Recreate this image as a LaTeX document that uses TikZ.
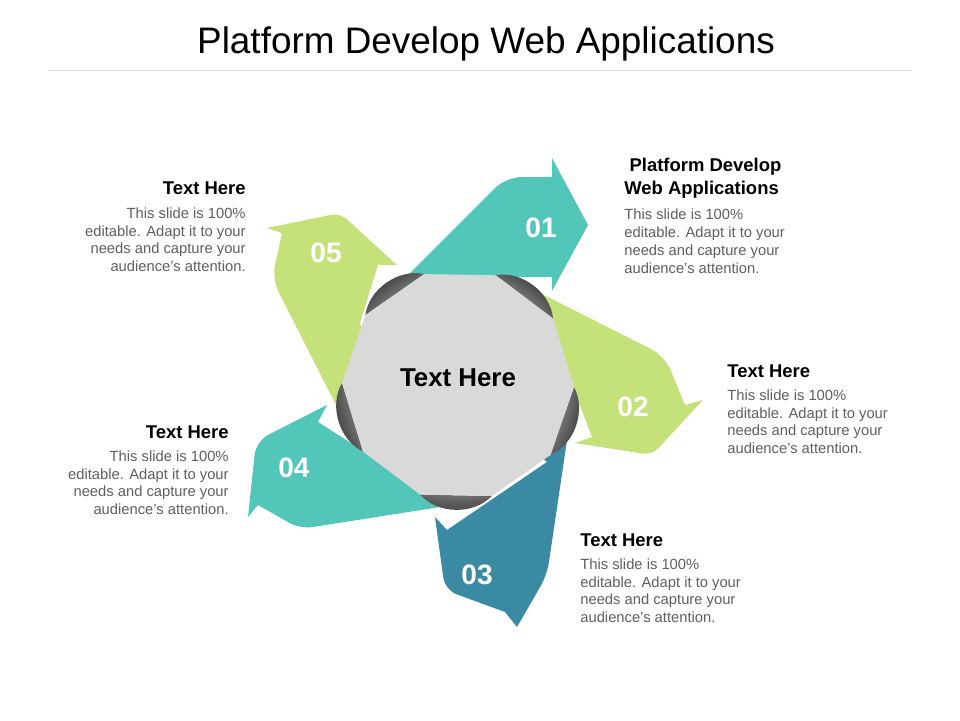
\documentclass[tikz,border=0pt]{standalone}
\usepackage{fontspec}
\setmainfont{Liberation Sans}
\usetikzlibrary{positioning}
\definecolor{tealArrow}{HTML}{52C6B9}
\definecolor{limeArrow}{HTML}{C5E17A}
\definecolor{blueArrow}{HTML}{3A8AA4}
\definecolor{hubGray}{HTML}{D9D9D9}
\definecolor{ringDark}{HTML}{3C3C3C}
\definecolor{ringLight}{HTML}{707070}
\definecolor{bodyGray}{HTML}{5F5F5F}
\pgfdeclareradialshading{ringshade}{\pgfpoint{0bp}{0bp}}{color(0bp)=(ringLight); color(21bp)=(ringLight); color(25bp)=(ringDark); color(50bp)=(ringDark)}
\tikzset{
  numlabel/.style={text=white, font=\bfseries\fontsize{16}{16}\selectfont},
  heading/.style={inner sep=0pt, font=\bfseries\fontsize{10.5}{13}\selectfont},
  desc/.style={inner sep=0pt, text=bodyGray, font=\fontsize{8.4}{10.2}\selectfont}
}

\begin{document}
\begin{tikzpicture}[x=0.02cm, y=-0.02cm]
        \useasboundingbox (0,0) rectangle (960,720);
        % title
        \node[anchor=base, font=\fontsize{21}{25}\selectfont] (title) at (486,53) {Platform Develop Web Applications};
        \draw[black!14, line width=0.6pt] (48,70.5) -- (912,70.5);

        % arrow 01
        \fill[tealArrow] (391,292) [rounded corners=9pt] -- (506,177) [sharp corners] -- (552,177) -- (552,158) -- (588,225) -- (552,291) -- (552,277) -- (420,277) -- (405,300) -- cycle;
        % arrow 02
        \fill[limeArrow] (530,288) [rounded corners=9pt] -- (665,356) [sharp corners] -- (685,405) -- (703,400) [rounded corners=5pt] -- (652,455) [sharp corners] -- (575,443) -- (592,437) -- (574,390) -- (500,350) -- (520,300) -- cycle;
        % arrow 03
        \fill[blueArrow] (570,420) [rounded corners=7pt] -- (547,575) [sharp corners] -- (517,627) -- (505,612) [rounded corners=7pt] -- (445,590) [sharp corners] -- (435,517) -- (447,530) -- (547,462) -- (500,420) -- (560,400) -- cycle;
        % arrow 04
        \fill[tealArrow] (365,452) -- (318,422) -- (327,405) [rounded corners=8pt] -- (256,441) [sharp corners] -- (248,517) -- (258,505) [rounded corners=7pt] -- (300,529) [sharp corners] -- (453,505) -- (440,470) -- (385,440) -- cycle;
        % arrow 05
        \fill[limeArrow] (360,323) -- (378,265) -- (397,265) [rounded corners=5pt] -- (340,213) [sharp corners] -- (267,228) -- (282,233) [rounded corners=8pt] -- (272,279) [sharp corners] -- (340,413) -- (380,380) -- cycle;

        % hub
        \begin{scope}[shift={(458,385)}]
            \begin{scope}
                \clip \foreach \a in {217,-71,1,73,145} {(\a:116) .. controls (\a+10:131) and (\a+26:131) .. (\a+36:116) -- cycle};
                \shade[shading=ringshade] (0,0) circle (131);
            \end{scope}
            \fill[hubGray] (-107:116) \foreach \a in {-71,-35,...,217} {-- (\a:116)} -- cycle;
        \end{scope}
        \node[font=\bfseries\fontsize{14.7}{16}\selectfont] (hub) at (458,378) {Text Here};

        % numbers
        \node[numlabel] (n1) at (541,228) {01};
        \node[numlabel] (n2) at (633,407) {02};
        \node[numlabel] (n3) at (477,575) {03};
        \node[numlabel] (n4) at (294,468) {04};
        \node[numlabel] (n5) at (326,253) {05};

        % texts right
        \node[heading, anchor=north west, align=left] (h1) at (624,158) {\hspace*{3pt}Platform Develop\\Web Applications};
        \node[desc, below=0.2cm of h1.south west, anchor=north west, align=left] (d1) {This slide is 100\%\\editable. Adapt it to your\\needs and capture your\\audience's attention.};
        \node[heading, anchor=north west] (h2) at (727,364) {Text Here};
        \node[desc, below=0.23cm of h2.south west, anchor=north west, align=left] (d2) {This slide is 100\%\\editable. Adapt it to your\\needs and capture your\\audience's attention.};
        \node[heading, anchor=north west] (h3) at (580,533) {Text Here};
        \node[desc, below=0.23cm of h3.south west, anchor=north west, align=left] (d3) {This slide is 100\%\\editable. Adapt it to your\\needs and capture your\\audience's attention.};
        % texts left
        \node[heading, anchor=north east] (h4) at (229,425) {Text Here};
        \node[desc, below=0.23cm of h4.south east, anchor=north east, align=right] (d4) {This slide is 100\%\\editable. Adapt it to your\\needs and capture your\\audience's attention.};
        \node[heading, anchor=north east] (h5) at (246,181) {Text Here};
        \node[desc, below=0.25cm of h5.south east, anchor=north east, align=right] (d5) {This slide is 100\%\\editable. Adapt it to your\\needs and capture your\\audience's attention.};
\end{tikzpicture}
\end{document}
